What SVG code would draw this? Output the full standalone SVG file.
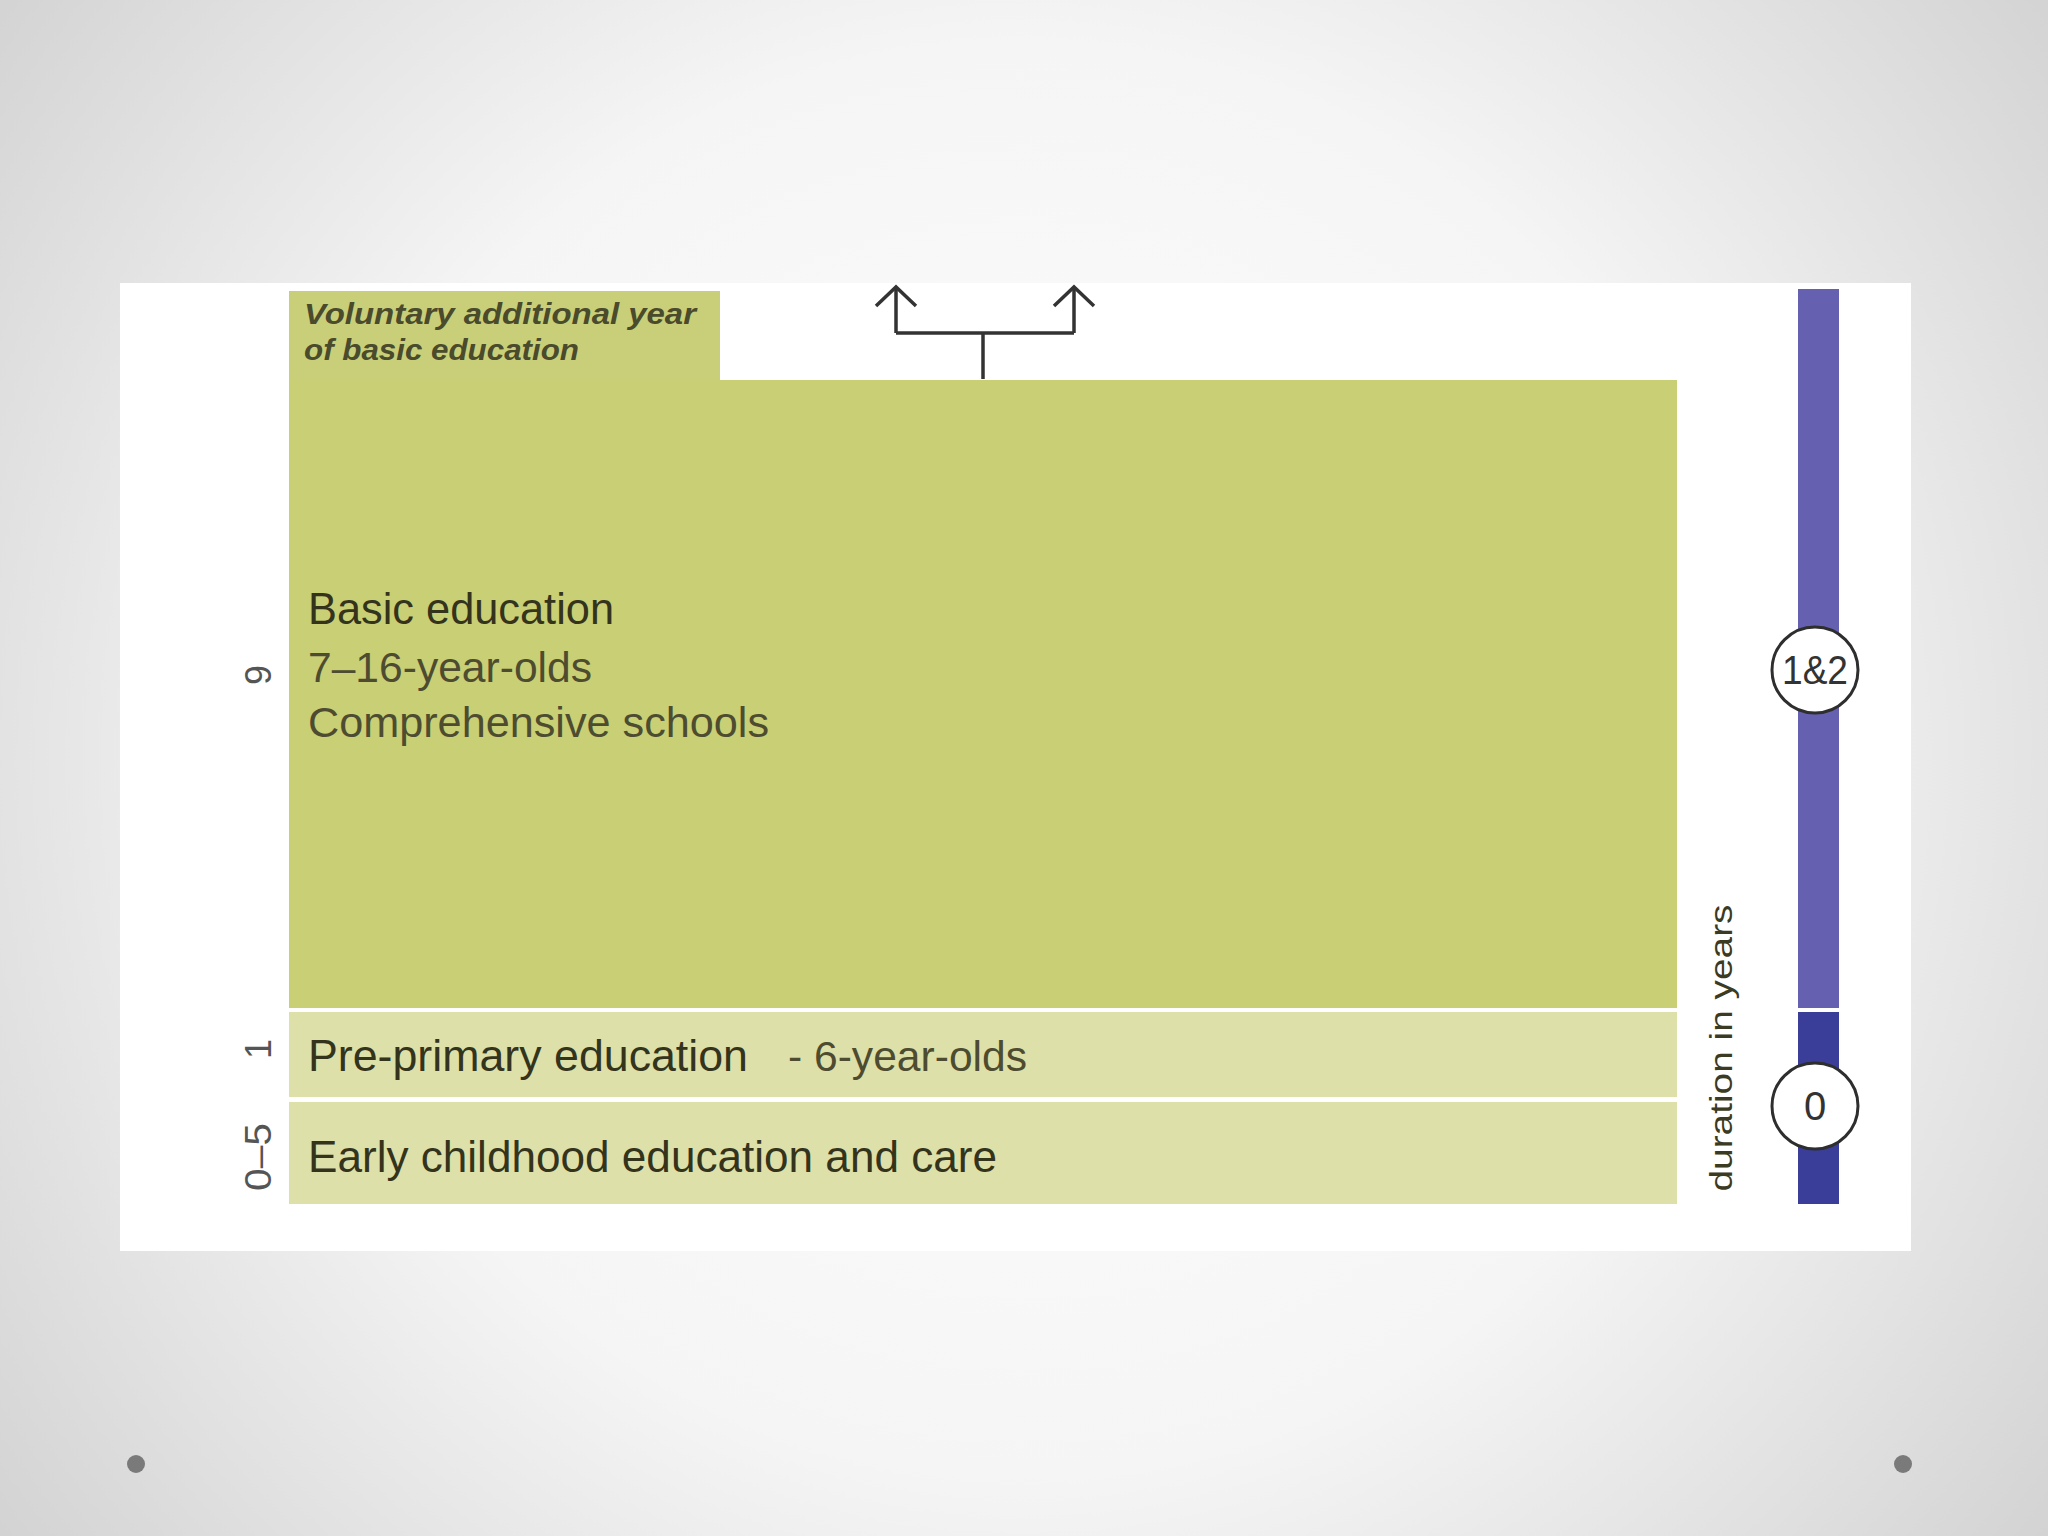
<svg xmlns="http://www.w3.org/2000/svg" width="2048" height="1536" viewBox="0 0 2048 1536">
<defs>
<radialGradient id="bg" cx="1024" cy="760" r="1300" gradientUnits="userSpaceOnUse">
<stop offset="0" stop-color="#ffffff"/>
<stop offset="0.55" stop-color="#f5f5f5"/>
<stop offset="1" stop-color="#d2d2d2"/>
</radialGradient>
<style>
.t{font-family:"Liberation Sans",Arial,sans-serif;fill:#3b3a22}
.lbl{font-family:"Liberation Sans",Arial,sans-serif;fill:#34331c;font-size:44px}
.sub{font-family:"Liberation Sans",Arial,sans-serif;fill:#4d4c30;font-size:43px}
.num{font-family:"Liberation Sans",Arial,sans-serif;fill:#555555;font-size:36px}
.vol{font-family:"Liberation Sans",Arial,sans-serif;fill:#4a4a2c;font-size:29px;font-style:italic;font-weight:bold}
.ln{fill:none;stroke:#333333;stroke-width:3.5}
.circ{fill:#ffffff;stroke:#2e2e2e;stroke-width:3}
.ct{font-family:"Liberation Sans",Arial,sans-serif;fill:#333333;font-size:40px}
</style>
</defs>
<rect x="0" y="0" width="2048" height="1536" fill="url(#bg)"/>
<rect x="120" y="283" width="1791" height="968" fill="#ffffff"/>

<g id="voluntary">
<rect x="289" y="291" width="431" height="89" fill="#c9cf78"/>
<text class="vol" x="304" y="324" textLength="392" lengthAdjust="spacingAndGlyphs">Voluntary additional year</text>
<text class="vol" x="304" y="360" textLength="275" lengthAdjust="spacingAndGlyphs">of basic education</text>
</g>

<g id="basic">
<rect x="289" y="380" width="1388" height="628" fill="#c9cf74"/>
<text class="lbl" x="308" y="624" textLength="306" lengthAdjust="spacingAndGlyphs">Basic education</text>
<text class="sub" x="308" y="682" textLength="284" lengthAdjust="spacingAndGlyphs">7–16-year-olds</text>
<text class="sub" x="308" y="737" textLength="461" lengthAdjust="spacingAndGlyphs">Comprehensive schools</text>
</g>

<g id="preprimary">
<rect x="289" y="1012" width="1388" height="85" fill="#dde0a8"/>
<text class="lbl" x="308" y="1071" textLength="440" lengthAdjust="spacingAndGlyphs">Pre-primary education</text>
<text class="sub" x="788" y="1071" textLength="239" lengthAdjust="spacingAndGlyphs">- 6-year-olds</text>
</g>

<g id="early">
<rect x="289" y="1102" width="1388" height="102" fill="#dde0a8"/>
<text class="lbl" x="308" y="1172" textLength="689" lengthAdjust="spacingAndGlyphs">Early childhood education and care</text>
</g>

<g id="years">
<text class="num" transform="translate(258 675) rotate(-90)" text-anchor="middle" dominant-baseline="central">9</text>
<text class="num" transform="translate(258 1049) rotate(-90)" text-anchor="middle" dominant-baseline="central">1</text>
<text class="num" transform="translate(258 1157) rotate(-90)" text-anchor="middle" dominant-baseline="central" textLength="68" lengthAdjust="spacingAndGlyphs">0–5</text>
<text class="t" transform="translate(1721 1048) rotate(-90)" text-anchor="middle" dominant-baseline="central" font-size="32" fill="#3b3a3a" textLength="287" lengthAdjust="spacingAndGlyphs">duration in years</text>
</g>

<g id="scale">
<rect x="1798" y="289" width="41" height="719" fill="#6560b0"/>
<rect x="1798" y="1012" width="41" height="192" fill="#3a3e98"/>
</g>

<g id="isced12">
<circle class="circ" cx="1815" cy="670" r="43"/>
<text class="ct" x="1815" y="670" text-anchor="middle" dominant-baseline="central" textLength="66" lengthAdjust="spacingAndGlyphs">1&amp;2</text>
</g>
<g id="isced0">
<circle class="circ" cx="1815" cy="1106" r="43"/>
<text class="ct" x="1815" y="1106" text-anchor="middle" dominant-baseline="central">0</text>
</g>

<g id="connectors">
<path class="ln" d="M983 379 V333 M896 333 H1074 M896 333 V287 M1074 333 V287"/>
<path class="ln" d="M876 306 L896 287 L916 306 M1054 306 L1074 287 L1094 306"/>
</g>

<circle cx="136" cy="1464" r="9" fill="#7a7a7a"/>
<circle cx="1903" cy="1464" r="9" fill="#7a7a7a"/>
</svg>
